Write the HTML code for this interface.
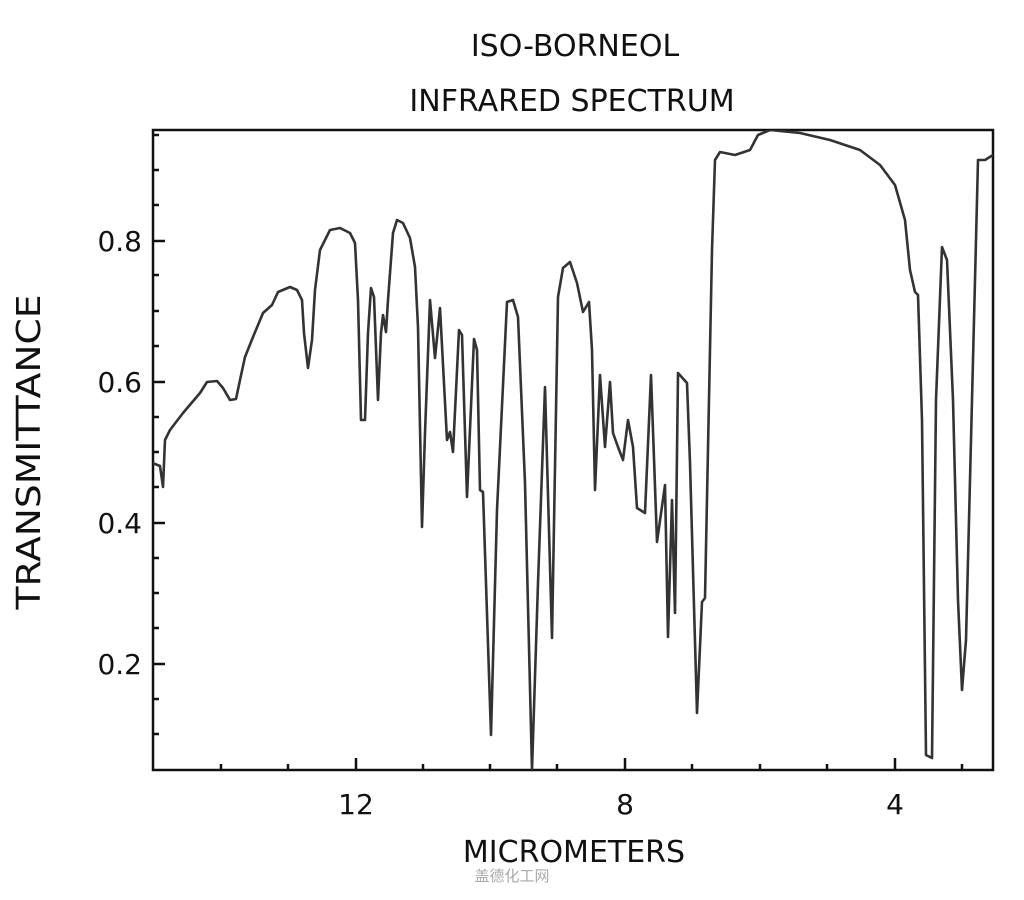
<!DOCTYPE html>
<html><head><meta charset="utf-8"><style>
body{margin:0;background:#fff}
svg{display:block}
text{font-family:"DejaVu Sans","Liberation Sans",sans-serif;fill:#111}
</style></head><body>
<svg width="1024" height="900" viewBox="0 0 1024 900">
<text x="575" y="56" font-size="30" text-anchor="middle">ISO-BORNEOL</text>
<text x="572" y="111" font-size="30" text-anchor="middle">INFRARED SPECTRUM</text>
<text transform="translate(40,452) rotate(-90)" font-size="33" text-anchor="middle" textLength="315" lengthAdjust="spacingAndGlyphs">TRANSMITTANCE</text>
<text x="574" y="862" font-size="30" text-anchor="middle">MICROMETERS</text>
<text x="512" y="881" font-size="15" text-anchor="middle" style="fill:#aaa;font-family:'Noto Sans CJK SC',sans-serif">盖德化工网</text>
<g font-size="28" text-anchor="end">
<text x="142" y="251">0.8</text><text x="142" y="392">0.6</text><text x="142" y="533">0.4</text><text x="142" y="674">0.2</text>
</g>
<g font-size="28" text-anchor="middle">
<text x="356" y="814">12</text><text x="625" y="814">8</text><text x="895" y="814">4</text>
</g>
<rect x="153" y="130" width="840" height="640" fill="none" stroke="#111" stroke-width="2.5"/>
<g stroke="#111" stroke-width="2.5">
<path d="M153 135h6M153 170h6M153 205h6M153 275h6M153 311h6M153 346h6M153 417h6M153 452h6M153 487h6M153 558h6M153 593h6M153 628h6M153 699h6M153 734h6"/>
<path d="M153 241h12M153 382h12M153 523h12M153 664h12"/>
<path d="M221 770v-6M288 770v-6M423 770v-6M490 770v-6M557 770v-6M692 770v-6M760 770v-6M827 770v-6M962 770v-6"/>
<path d="M356 770v-12M625 770v-12M895 770v-12"/>
</g>
<svg x="153" y="130" width="840" height="640" viewBox="153 130 840 640">
<polyline fill="none" stroke="#333" stroke-width="2.6" stroke-linejoin="round" points="
150,462 160,466 163,487 165,440 170,430 183,413 200,393 207,382 217,381 223,388 230,400 236,399 240,380 245,357 253,337 263,313 272,305 278,292 290,287 297,290 302,300 304,333 308,368 312,340 315,290 320,250 325,240 330,230 340,228 350,233 355,243 358,300 361,420 365,420 368,333 371,288 374,297 378,400 381,333 383,315 386,332 388,300 393,233 397,220 403,223 410,238 415,267 418,327 422,527 425,433 430,300 435,358 440,308 447,440 450,432 453,452 459,330 462,335 467,497 474,339 477,350 480,490 483,492 491,735 497,510 507,302 513,300 518,317 525,483 532,770 538,583 545,387 552,638 558,297 563,268 570,262 577,283 583,312 589,302 592,350 595,490 600,375 605,447 610,382 613,433 618,447 623,460 628,420 633,447 637,508 645,513 651,375 657,542 665,485 668,637 672,500 675,613 678,373 687,383 690,463 697,713 702,602 705,598 712,250 715,160 720,152 735,155 750,150 758,135 770,130 800,133 830,140 860,150 880,165 895,185 905,220 910,270 915,292 918,295 922,420 926,755 932,758 936,400 942,247 947,260 953,400 958,600 962,690 966,640 972,400 978,160 985,160 993,155"/>
</svg>
</svg>
</body></html>
